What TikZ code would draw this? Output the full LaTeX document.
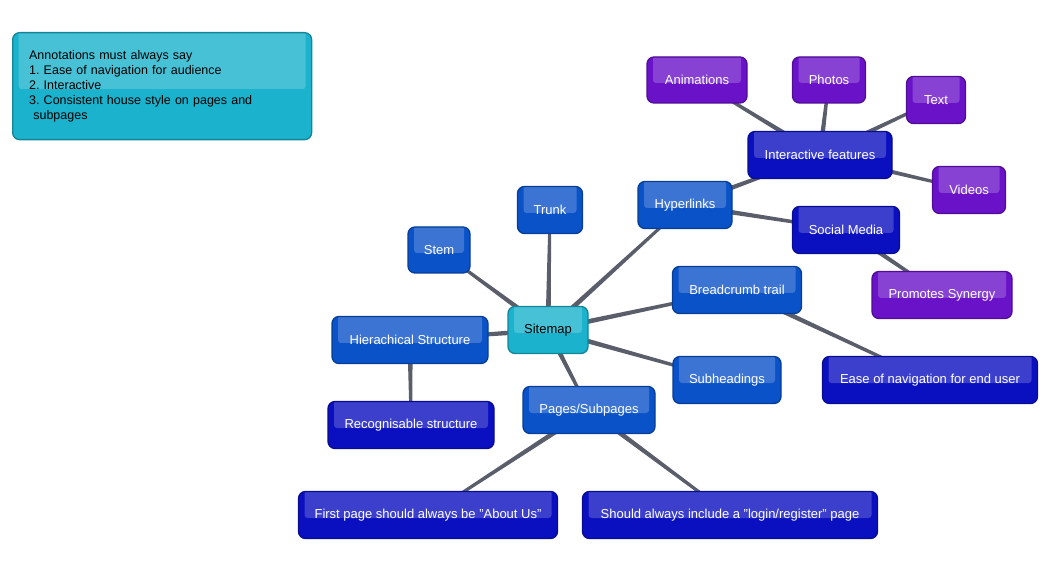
\documentclass[tikz,border=0pt]{standalone}
\usepackage{fontspec}
\setmainfont{Liberation Sans}
\frenchspacing
\usetikzlibrary{calc,backgrounds}
\definecolor{cblue}{HTML}{0A52C8}
\definecolor{cdark}{HTML}{0A10C0}
\definecolor{cpurp}{HTML}{6A12C8}
\definecolor{ccyan}{HTML}{1AB2CC}
\definecolor{cedge}{HTML}{5A5E6A}
\tikzset{
 box/.style={rounded corners=7pt,draw=#1!75!black,line width=1.3pt,fill=#1,text=white,
   font=\fontsize{13}{15}\selectfont,inner sep=0pt,
   path picture={\fill[white,opacity=0.2,rounded corners=3pt]
     ($(path picture bounding box.north west)+(6,-4)$) rectangle
     ($(path picture bounding box.east)+(-6,3)$);}},
 bb/.style={box=cblue},
 bd/.style={box=cdark},
 bp/.style={box=cpurp},
 bc/.style={box=ccyan,text=black},
}
\newcommand\taper[2]{\fill[cedge] ($(#1)!2.6pt!90:(#2)$) -- ($(#2)!1.3pt!-90:(#1)$) -- ($(#2)!1.3pt!90:(#1)$) -- ($(#1)!2.6pt!-90:(#2)$) -- cycle;}
\begin{document}
\begin{tikzpicture}[x=1pt,y=-1pt]
\useasboundingbox (0,0) rectangle (1055,569);
\node[bc,minimum width=299,minimum height=107,align=left,text width=280,anchor=north west,
  font=\fontsize{12.5}{15}\selectfont,inner sep=0pt] (ann) at (12,32)
  {\rule{0pt}{10pt}\hspace*{7pt}Annotations must always say\\
   \hspace*{7pt}1. Ease of navigation for audience\\
   \hspace*{7pt}2. Interactive\\
   \hspace*{7pt}3. Consistent house style on pages and\\
   \hspace*{7pt}\ subpages\\[12pt]};
\node[bc,minimum width=80,minimum height=47] (site) at (548,330) {Sitemap};
\node[bb,minimum width=62,minimum height=46] (stem) at (439,250) {Stem};
\node[bb,minimum width=65,minimum height=47] (trunk) at (550,210) {Trunk};
\node[bb,minimum width=94,minimum height=47] (hyp) at (685,205) {Hyperlinks};
\node[bd,minimum width=144,minimum height=47] (intf) at (820,155) {Interactive features};
\node[bp,minimum width=100,minimum height=46] (anim) at (697,80) {Animations};
\node[bp,minimum width=73,minimum height=46] (photo) at (829,80) {Photos};
\node[bp,minimum width=59,minimum height=47] (text) at (936,100) {Text};
\node[bp,minimum width=73,minimum height=47] (vid) at (969,190) {Videos};
\node[bd,minimum width=107,minimum height=47] (soc) at (846,230) {Social Media};
\node[bp,minimum width=140,minimum height=47] (syn) at (942,295) {Promotes Synergy};
\node[bb,minimum width=129,minimum height=47] (bread) at (737,290) {Breadcrumb trail};
\node[bd,minimum width=215,minimum height=47] (ease) at (930,380) {Ease of navigation for end user};
\node[bb,minimum width=108,minimum height=47] (sub) at (727,380) {Subheadings};
\node[bb,minimum width=132,minimum height=47] (pages) at (589,410) {Pages/Subpages};
\node[bb,minimum width=156,minimum height=47] (hier) at (410,340) {Hierachical Structure};
\node[bd,minimum width=166,minimum height=47] (rec) at (411,425) {Recognisable structure};
\node[bd,minimum width=259,minimum height=47] (first) at (428,515) {First page should always be "About Us"};
\node[bd,minimum width=295,minimum height=47] (login) at (730,515) {Should always include a "login/register" page};
\begin{scope}[on background layer]
\taper{site}{stem}\taper{site}{trunk}\taper{site}{hyp}\taper{site}{bread}
\taper{site}{sub}\taper{site}{pages}\taper{site}{hier}
\taper{hyp}{intf}\taper{hyp}{soc}
\taper{intf}{anim}\taper{intf}{photo}\taper{intf}{text}\taper{intf}{vid}
\taper{soc}{syn}\taper{bread}{ease}\taper{hier}{rec}
\taper{pages}{first}\taper{pages}{login}
\end{scope}
\end{tikzpicture}
\end{document}
